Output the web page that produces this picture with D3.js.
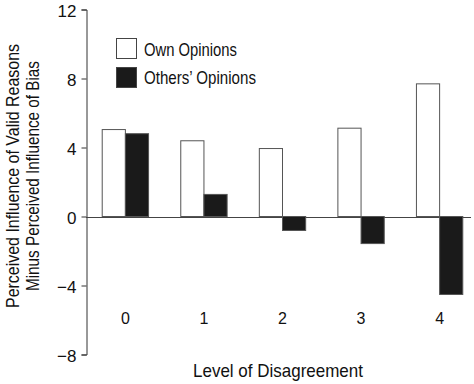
<!DOCTYPE html>
<html><head><meta charset="utf-8">
<script src="https://cdn.jsdelivr.net/npm/d3@7"></script>
<style>body{margin:0;background:#fff}text{font-family:"Liberation Sans Narrow","Arial Narrow","Liberation Sans",sans-serif;fill:#111}</style>
</head><body><svg id="c" width="474" height="384"></svg>
<script>
const categories = ["0","1","2","3","4"];
const ownOpinions = [5.04, 4.39, 3.94, 5.12, 7.69];
const othersOpinions = [4.8, 1.28, -0.81, -1.57, -4.52];
const yTicks = [12, 8, 4, 0, -4, -8];
const seriesNames = ["Own Opinions", "Others\u2019 Opinions"];
const seriesFill = ["#ffffff", "#1a1a1a"];

const svg = d3.select("#c");
const y = d3.scaleLinear().domain([-8, 12]).range([354.5, 9.5]);
const x = d3.scaleBand().domain(categories).range([86, 478]).paddingInner(0.41).paddingOuter(0.2);
const xs = d3.scaleBand().domain([0,1]).range([0, x.bandwidth()]);

// y axis
const ya = svg.append("g").attr("transform","translate(86.5,0)")
  .call(d3.axisLeft(y).tickValues(yTicks).tickSize(5).tickPadding(5).tickFormat(d => d < 0 ? "\u2212" + Math.abs(d) : d));
ya.select(".domain").attr("stroke","#333");
ya.selectAll(".tick line").attr("stroke","#333");
ya.selectAll(".tick text").attr("font-size", 17).attr("fill","#111").attr("dy","0.42em");

// zero line
svg.append("line").attr("x1",86).attr("x2",471).attr("y1",Math.round(y(0))+0.5).attr("y2",Math.round(y(0))+0.5).attr("stroke","#444");

// bars
const data = [ownOpinions, othersOpinions];
data.forEach((vals, si) => {
  svg.append("g").selectAll("rect").data(vals).join("rect")
    .attr("x", (d,i) => x(categories[i]) + xs(si) + 0.5)
    .attr("y", d => Math.min(y(d), y(0)))
    .attr("width", xs.bandwidth())
    .attr("height", d => Math.abs(y(d) - y(0)))
    .attr("fill", seriesFill[si])
    .attr("stroke", "#555").attr("stroke-width", 1);
});

// category labels
svg.append("g").selectAll("text").data(categories).join("text")
  .attr("x", d => x(d) + x.bandwidth()/2 + 0.5).attr("y", 324)
  .attr("text-anchor","middle").attr("font-size",16).text(d => d);

// legend
const legendLen = [93, 112];
seriesNames.forEach((n, i) => {
  svg.append("rect").attr("x",116.5).attr("y",38.5 + i*29).attr("width",20).attr("height",20)
    .attr("fill", seriesFill[i]).attr("stroke","#444");
  svg.append("text").attr("x",144).attr("y",56 + i*27.5).attr("font-size",18.5)
    .attr("textLength", legendLen[i]).attr("lengthAdjust","spacingAndGlyphs").text(n);
});

// axis titles
svg.append("text").attr("x",193).attr("y",377).attr("font-size",19)
  .attr("textLength",170).attr("lengthAdjust","spacingAndGlyphs").text("Level of Disagreement");
const yt = svg.append("g").attr("transform","translate(0,176) rotate(-90)");
yt.append("text").attr("x",-132).attr("y",18.5).attr("font-size",18.5)
  .attr("textLength",264).attr("lengthAdjust","spacingAndGlyphs").text("Perceived Influence of Valid Reasons");
yt.append("text").attr("x",-115).attr("y",39).attr("font-size",18.5)
  .attr("textLength",230).attr("lengthAdjust","spacingAndGlyphs").text("Minus Perceived Influence of Bias");
</script></body></html>
